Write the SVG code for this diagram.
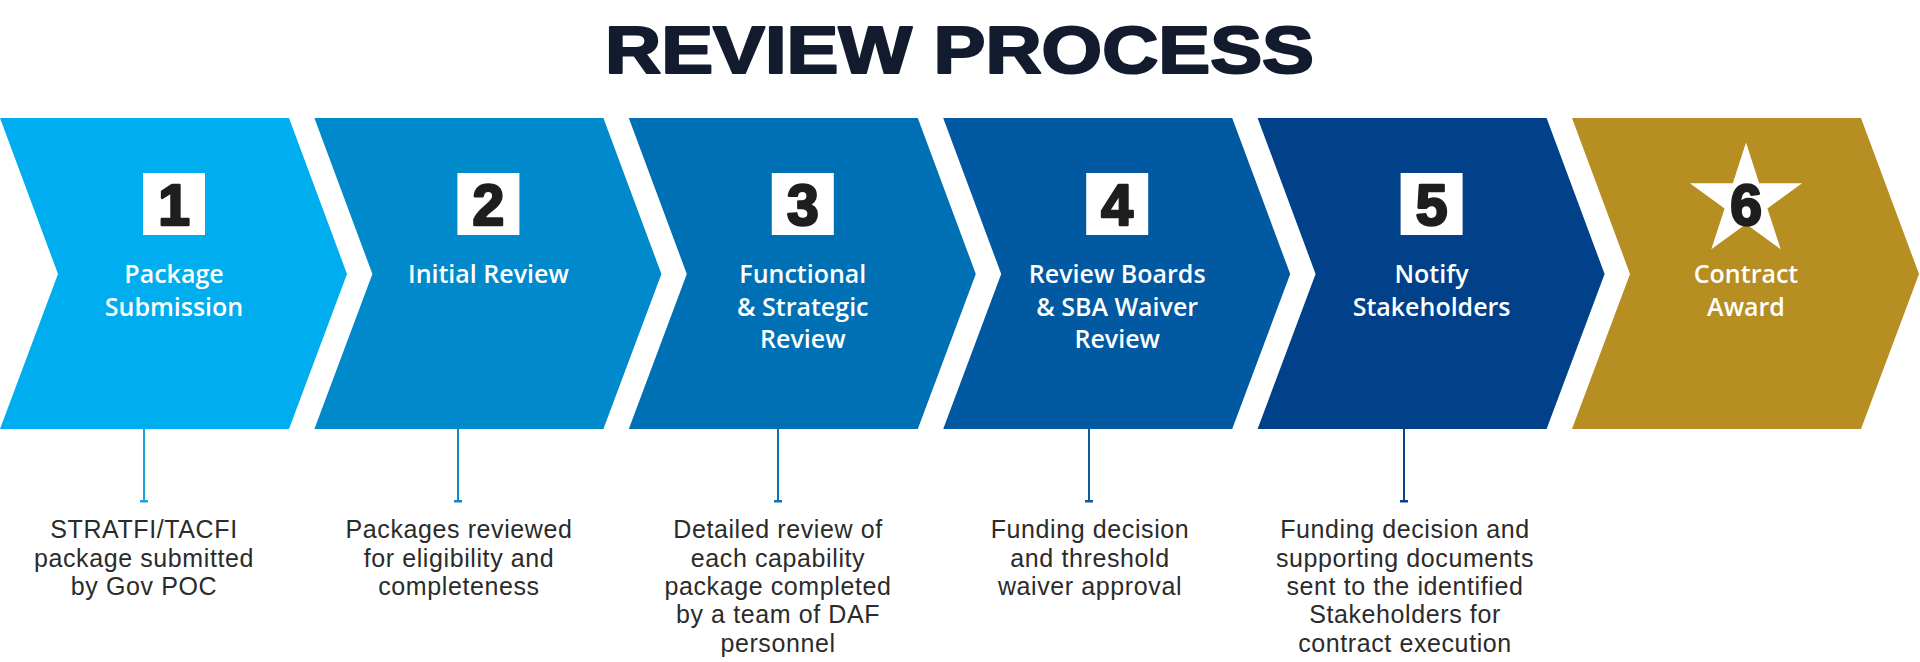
<svg xmlns="http://www.w3.org/2000/svg" width="1920" height="662" viewBox="0 0 1920 662">
<style>
.title{font-family:"Liberation Sans",Arial,sans-serif;font-weight:700;font-size:67px;fill:#131b2f;stroke:#131b2f;stroke-width:2.2px;stroke-linejoin:round}
.box{fill:#ffffff}
.num{font-family:"Liberation Sans",Arial,sans-serif;font-weight:700;font-size:57px;fill:#1e1e1e;stroke:#1e1e1e;stroke-width:2.6px;stroke-linejoin:round;text-anchor:middle}
.lbl{font-family:"Open Sans","Liberation Sans",sans-serif;font-weight:600;font-size:25px;fill:#ffffff;text-anchor:middle}
.desc{font-family:"Liberation Sans",Arial,sans-serif;font-weight:400;font-size:25px;letter-spacing:0.6px;fill:#2b2b2b;text-anchor:middle}
.conn{stroke-width:2;fill:none}
</style>
<rect width="1920" height="662" fill="#ffffff"/>
<text class="title" x="959.5" y="73" text-anchor="middle" textLength="709" lengthAdjust="spacingAndGlyphs">REVIEW PROCESS</text>

<g id="step1">
<polygon points="0,118 289,118 347,274 289,429 0,429 58,274" fill="#00ADEE"/>
<rect class="box" x="143" y="173" width="62" height="62"/>
<text class="num" x="174" y="224.5">1</text>
<text class="lbl" x="174" y="283.3">Package</text>
<text class="lbl" x="174" y="315.8">Submission</text>
</g>

<g id="step2">
<polygon points="314.4,118 603.4,118 661.4,274 603.4,429 314.4,429 372.4,274" fill="#0089CB"/>
<rect class="box" x="457.4" y="173" width="62" height="62"/>
<text class="num" x="488.4" y="224.5">2</text>
<text class="lbl" x="488.4" y="283.3">Initial Review</text>
</g>

<g id="step3">
<polygon points="628.8,118 917.8,118 975.8,274 917.8,429 628.8,429 686.8,274" fill="#0070B5"/>
<rect class="box" x="771.8" y="173" width="62" height="62"/>
<text class="num" x="802.8" y="224.5">3</text>
<text class="lbl" x="802.8" y="283.3">Functional</text>
<text class="lbl" x="802.8" y="315.8">&amp; Strategic</text>
<text class="lbl" x="802.8" y="348.3">Review</text>
</g>

<g id="step4">
<polygon points="943.2,118 1232.2,118 1290.2,274 1232.2,429 943.2,429 1001.2,274" fill="#0059A1"/>
<rect class="box" x="1086.2" y="173" width="62" height="62"/>
<text class="num" x="1117.2" y="224.5">4</text>
<text class="lbl" x="1117.2" y="283.3">Review Boards</text>
<text class="lbl" x="1117.2" y="315.8">&amp; SBA Waiver</text>
<text class="lbl" x="1117.2" y="348.3">Review</text>
</g>

<g id="step5">
<polygon points="1257.6,118 1546.6,118 1604.6,274 1546.6,429 1257.6,429 1315.6,274" fill="#00418A"/>
<rect class="box" x="1400.6" y="173" width="62" height="62"/>
<text class="num" x="1431.6" y="224.5">5</text>
<text class="lbl" x="1431.6" y="283.3">Notify</text>
<text class="lbl" x="1431.6" y="315.8">Stakeholders</text>
</g>

<g id="step6">
<polygon points="1572,118 1861,118 1919,274 1861,429 1572,429 1630,274" fill="#B68E22"/>
<polygon points="1746,142.5 1759.2,183.3 1802.1,183.3 1767.4,208.5 1780.7,249.2 1746,224 1711.3,249.2 1724.6,208.5 1689.9,183.3 1732.8,183.3" fill="#ffffff"/>
<text class="num" x="1746" y="224.5">6</text>
<text class="lbl" x="1746" y="283.3">Contract</text>
<text class="lbl" x="1746" y="315.8">Award</text>
</g>

<g id="connectors">
<line class="conn" x1="144" y1="429" x2="144" y2="502" stroke="#1AA3DC"/>
<rect x="140" y="500" width="8" height="2.5" fill="#1AA3DC"/>
<line class="conn" x1="458" y1="429" x2="458" y2="502" stroke="#0E89C8"/>
<rect x="454" y="500" width="8" height="2.5" fill="#0E89C8"/>
<line class="conn" x1="778" y1="429" x2="778" y2="502" stroke="#0F72B3"/>
<rect x="774" y="500" width="8" height="2.5" fill="#0F72B3"/>
<line class="conn" x1="1089" y1="429" x2="1089" y2="502" stroke="#0D5A9E"/>
<rect x="1085" y="500" width="8" height="2.5" fill="#0D5A9E"/>
<line class="conn" x1="1404" y1="429" x2="1404" y2="502" stroke="#0D4386"/>
<rect x="1400" y="500" width="8" height="2.5" fill="#0D4386"/>
</g>

<g id="desc1">
<text class="desc" x="144" y="538.3">STRATFI/TACFI</text>
<text class="desc" x="144" y="566.7">package submitted</text>
<text class="desc" x="144" y="595">by Gov POC</text>
</g>
<g id="desc2">
<text class="desc" x="459" y="538.3">Packages reviewed</text>
<text class="desc" x="459" y="566.7">for eligibility and</text>
<text class="desc" x="459" y="595">completeness</text>
</g>
<g id="desc3">
<text class="desc" x="778" y="538.3">Detailed review of</text>
<text class="desc" x="778" y="566.7">each capability</text>
<text class="desc" x="778" y="595">package completed</text>
<text class="desc" x="778" y="623.3">by a team of DAF</text>
<text class="desc" x="778" y="651.7">personnel</text>
</g>
<g id="desc4">
<text class="desc" x="1090" y="538.3">Funding decision</text>
<text class="desc" x="1090" y="566.7">and threshold</text>
<text class="desc" x="1090" y="595">waiver approval</text>
</g>
<g id="desc5">
<text class="desc" x="1405" y="538.3">Funding decision and</text>
<text class="desc" x="1405" y="566.7">supporting documents</text>
<text class="desc" x="1405" y="595">sent to the identified</text>
<text class="desc" x="1405" y="623.3">Stakeholders for</text>
<text class="desc" x="1405" y="651.7">contract execution</text>
</g>
</svg>
